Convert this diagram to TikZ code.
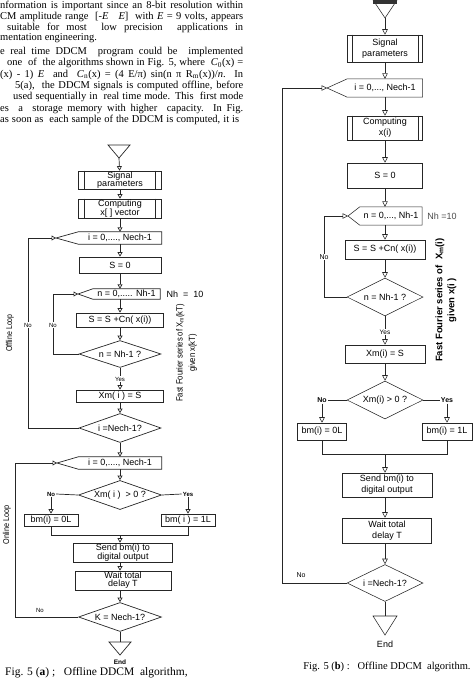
\documentclass[tikz,border=0pt]{standalone}
\usepackage{fontspec}
\setmainfont{Liberation Serif}
\newfontfamily\chartfont{Liberation Sans}
\usetikzlibrary{arrows.meta,shapes.geometric,calc}
\begin{document}
\begin{tikzpicture}[x=1pt,y=-1pt,
  ln/.style={line width=0.55pt, draw=black!85},
  lnA/.style={line width=0.7pt, draw=black!85},
  arr/.style={ln, -{Triangle[open,length=5.5pt,width=5.5pt]}},
  arrA/.style={lnA, -{Triangle[open,length=4.5pt,width=5pt]}},
  fA/.style={font=\chartfont\fontsize{9}{7.8}\selectfont},
  fB/.style={font=\chartfont\fontsize{9}{11}\selectfont},
  smA/.style={inner sep=1pt, font=\chartfont\fontsize{6}{6}\selectfont},
  smAb/.style={inner sep=1pt, font=\chartfont\bfseries\fontsize{6}{6}\selectfont},
  smB/.style={inner sep=1pt, font=\chartfont\fontsize{7}{7}\selectfont},
  smBb/.style={inner sep=1pt, font=\chartfont\bfseries\fontsize{7}{7}\selectfont},
  bx/.style={draw=black!85, line width=0.55pt, inner sep=0pt, align=center},
  bxA/.style={draw=black!85, line width=0.7pt, inner sep=0pt, align=center},
  dm/.style={diamond, draw=black!85, line width=0.55pt, inner sep=0pt, aspect=2.5, align=center},
  dmA/.style={diamond, draw=black!85, line width=0.7pt, inner sep=0pt, aspect=2.5, align=center},
  lp/.style={inner sep=0pt, align=center},
  body/.style={anchor=west, inner sep=0pt, font=\fontsize{10.5}{12}\selectfont},
]
\useasboundingbox (0,0) rectangle (474,680);

% ---------------- body text ----------------
\node[body] (t1) at (0,6) {\makebox[243pt][s]{nformation is important since an 8-bit resolution within}};
\node[body] (t2) at (0,17) {\makebox[243pt][s]{CM amplitude range\ \ [-\textit{E}\ \ \ \textit{E}]\ \ with \textit{E} = 9 volts, appears}};
\node[body] (t3) at (7,27.5) {\makebox[236pt][s]{suitable for most\ \ low precision\ \ applications in}};
\node[body] (t4) at (0,38.5) {mentation engineering.};
\node[body] (t5) at (0,52) {\makebox[243pt][s]{e real time DDCM\ \ program could be\ \ implemented}};
\node[body] (t6) at (7,63) {\makebox[236pt][s]{one\ \ of\ \ the algorithms shown in Fig. 5, where\ \ \textit{C}\textsubscript{0}(x) =}};
\node[body] (t7) at (0,74.5) {\makebox[243pt][s]{(x) - 1) \textit{E}\ \ and\ \ \textit{C}\textsubscript{n}(x) = (4 E/π) sin(n π R\textsubscript{m}(x))/\textit{n}.\ \ In}};
\node[body] (t8) at (15,86) {\makebox[228pt][s]{5(a),\ \ the DDCM signals is computed offline, before}};
\node[body] (t9) at (13,97) {\makebox[230pt][s]{used sequentially in\ \ real time mode. This\ \ first mode}};
\node[body] (t10) at (0,108.5) {\makebox[243pt][s]{es\ \ a\ \ storage memory with higher\ \ capacity.\ \ In Fig.}};
\node[body] (t11) at (0,119.5) {\makebox[239pt][s]{as soon as\ \ each sample of the DDCM is computed, it is}};

% ---------------- chart (a) ----------------
\coordinate (sA) at (119,158);
\draw[lnA] (sA) -- ++(-11,-13) -- ++(22,0) -- cycle;
\node[bxA,fA,minimum width=83,minimum height=18] (sigA) at (120,180) {Signal\\parameters};
\node[bxA,fA,minimum width=83,minimum height=19] (compA) at (120,208.5) {Computing\\x[ ] vector};
\foreach \n in {sigA,compA}
  \draw[lnA] ([xshift=6.5pt]\n.north west) -- ([xshift=6.5pt]\n.south west)
            ([xshift=-6.5pt]\n.north east) -- ([xshift=-6.5pt]\n.south east);
\node[lp,fA,minimum width=83,minimum height=12] (iA) at (120,238) {i = 0,...., Nech-1};
\coordinate (iAt) at (56,238);
\draw[lnA] (iAt) -- (iA.north west) -- (iA.north east) -- (iA.south east) -- (iA.south west) -- cycle;
\node[bxA,fA,minimum width=82,minimum height=16] (S0A) at (120,265) {S = 0};
\node[lp,fA,minimum width=67,minimum height=10] (nA) at (126.5,294) {n = 0,..... Nh-1};
\coordinate (nAt) at (78,294);
\draw[lnA] (nAt) -- (nA.north west) -- (nA.north east) -- (nA.south east) -- (nA.south west) -- cycle;
\node[fA] (NhA) at (185,294) {Nh\ \ =\ \ 10};
\node[bxA,fA,minimum width=87,minimum height=14] (SSA) at (120,320) {S = S +Cn( x(i))};
\node[dmA,fA,minimum width=82,minimum height=27] (nqA) at (120,354) {n = Nh-1 ?};
\node[smA] (yA) at (120,379) {Yes};
\node[bxA,fA,minimum width=87,minimum height=12] (XmA) at (120,396) {Xm( i ) = S};
\node[dmA,fA,minimum width=82,minimum height=29] (iqA) at (120,428) {i =Nech-1?};
\node[lp,fA,minimum width=83,minimum height=12] (i2A) at (120,463) {i = 0,...., Nech-1};
\coordinate (i2At) at (57,463);
\draw[lnA] (i2At) -- (i2A.north west) -- (i2A.north east) -- (i2A.south east) -- (i2A.south west) -- cycle;
\node[dmA,fA,minimum width=83,minimum height=26] (XqA) at (120,495) {Xm( i )\ \ > 0 ?};
\node[smAb] (noBrA) at (51,494) {No};
\node[smAb] (yesBrA) at (188,494) {Yes};
\node[bxA,fA,minimum width=54,minimum height=12] (b0A) at (51,520) {bm(i) = 0L};
\node[bxA,fA,minimum width=54,minimum height=12] (b1A) at (188,520) {bm( i ) = 1L};
\coordinate (mA) at (120,535);
\node[bxA,fA,minimum width=99,minimum height=19] (sendA) at (123,552.5) {Send bm(i) to\\digital output};
\node[bxA,fA,minimum width=96,minimum height=19] (waitA) at (123,580.5) {Wait total\\delay T};
\node[dmA,fA,minimum width=83,minimum height=29] (KqA) at (120,617) {K = Nech-1?};
\coordinate (eA) at (120,642);
\draw[lnA] (eA) ++(-11,0) -- ++(22,0) -- ++(-11,13) -- cycle;
\node[smAb, font=\chartfont\bfseries\fontsize{6.5}{7}\selectfont] (endlA) at (120,662) {End};

% connectors (a)
\draw[arrA] (sA) -- (sigA);
\draw[arrA] (sigA) -- (compA);
\draw[arrA] (compA) -- (iA);
\draw[arrA] (iA) -- (S0A);
\draw[arrA] (S0A) -- (S0A |- nA.north);
\draw[arrA] (S0A |- nA.south) -- (SSA);
\draw[arrA] (SSA) -- (nqA);
\draw[lnA] (nqA) -- (yA);
\draw[arrA] (yA) -- (XmA);
\draw[arrA] (XmA) -- (iqA);
\draw[arrA] (iqA) -- (i2A);
\draw[arrA] (i2A) -- (XqA);
\draw[lnA] (XqA.west) -- (noBrA.east);
\draw[arrA] (noBrA) -- (b0A);
\draw[lnA] (XqA.east) -- (yesBrA.west);
\draw[arrA] (yesBrA) -- (b1A);
\draw[lnA] (b0A) -- (b0A |- mA) -- (b1A |- mA) -- (b1A);
\draw[arrA] (mA) -- (mA |- sendA.north);
\draw[arrA] (sendA.south -| mA) -- (mA |- waitA.north);
\draw[arrA] (waitA.south -| mA) -- (KqA);
\draw[lnA] (KqA) -- (eA);
% loops (a)
\coordinate (oA1) at (28,428); \coordinate (oA2) at (28,238);
\draw[lnA] (iqA.west) -- (oA1) -- (oA2);
\draw[arrA] (oA2) -- (iAt);
\node[smA, fill=white] (noOffA) at (28,325) {No};
\coordinate (nA1) at (53,354); \coordinate (nA2) at (53,294);
\draw[lnA] (nqA.west) -- (nA1) -- (nA2);
\draw[arrA] (nA2) -- (nAt);
\node[smA, fill=white] (noInA) at (53,325) {No};
\coordinate (onA1) at (15,617); \coordinate (onA2) at (15,463);
\draw[lnA] (KqA.west) -- (onA1) -- (onA2);
\draw[arrA] (onA2) -- (i2At);
\node[smA] (noOnA) at (40,610) {No};
% labels (a)
\node[rotate=90, inner sep=0, font=\chartfont\fontsize{8.5}{9}\selectfont] (offLbl) at (10,333) {\scalebox{0.82}[1]{Offline Loop}};
\node[rotate=90, inner sep=0, font=\chartfont\fontsize{8.5}{9}\selectfont] (onLbl) at (7,525) {\scalebox{0.85}[1]{Online Loop}};
\node[rotate=90, inner sep=0, align=center, font=\chartfont\fontsize{9}{12.5}\selectfont] (fftA) at (186.5,353) {\scalebox{0.85}[1]{Fast Fourier series of X\textsubscript{m}(kT)}\\\scalebox{0.85}[1]{given x(kT)}};

% ---------------- chart (b) ----------------
\coordinate (sB) at (385,18);
\draw[ln] (sB) -- ++(-12,-18) -- ++(24,0) -- cycle;
\fill[black!80] (373,0) rectangle (397,3.5);
\node[bx,fB,minimum width=75,minimum height=27] (sigB) at (385,48.5) {Signal\\parameters};
\node[lp,fB,minimum width=75,minimum height=18] (iB) at (385,88) {i = 0,..., Nech-1};
\coordinate (iBt) at (327,88);
\draw[ln] (iBt) -- (iB.north west) -- (iB.north east) -- (iB.south east) -- (iB.south west) -- cycle;
\node[bx,fB,minimum width=75,minimum height=24] (compB) at (385,128) {Computing\\x(i)};
\foreach \n in {sigB,compB}
  \draw[ln] ([xshift=5pt]\n.north west) -- ([xshift=5pt]\n.south west)
            ([xshift=-5pt]\n.north east) -- ([xshift=-5pt]\n.south east);
\node[bx,fB,minimum width=75,minimum height=25] (S0B) at (385,175.5) {S = 0};
\node[lp,fB,minimum width=62,minimum height=18] (nB) at (391,216) {n = 0,..., Nh-1};
\coordinate (nBt) at (348,216);
\draw[ln] (nBt) -- (nB.north west) -- (nB.north east) -- (nB.south east) -- (nB.south west) -- cycle;
\node[fB, text=black!70] (NhB) at (442,216) {Nh =10};
\node[bx,fB,minimum width=80,minimum height=19] (SSB) at (385,249.5) {S = S +Cn( x(i))};
\node[dm,fB,minimum width=76,minimum height=38] (nqB) at (385,297) {n = Nh-1 ?};
\node[smB, font=\chartfont\fontsize{6.5}{7}\selectfont] (yB) at (385,332) {Yes};
\node[bx,fB,minimum width=80,minimum height=18] (XmB) at (385,354) {Xm(i) = S};
\node[dm,fB,minimum width=76,minimum height=38] (XqB) at (385,400) {Xm(i) > 0 ?};
\node[smBb] (noBrB) at (322,400) {No};
\node[smBb] (yesBrB) at (447,400) {Yes};
\node[bx,fB,minimum width=49,minimum height=17] (b0B) at (322,431.5) {bm(i) = 0L};
\node[bx,fB,minimum width=50,minimum height=17] (b1B) at (447,431.5) {bm(i) = 1L};
\coordinate (mB) at (385,454);
\node[bx,fB,minimum width=90,minimum height=24] (sendB) at (387,485) {Send bm(i) to\\digital output};
\node[bx,fB,minimum width=89,minimum height=25] (waitB) at (387,530.5) {Wait total\\delay T};
\node[dm,fB,minimum width=76,minimum height=37] (iqB) at (385,583) {i =Nech-1?};
\coordinate (eB) at (385,616);
\draw[ln] (eB) ++(-12,0) -- ++(24,0) -- ++(-12,19) -- cycle;
\node[fB] (endlB) at (385,644) {End};

% connectors (b)
\draw[arr] (sB) -- (sigB);
\draw[arr] (sigB) -- (iB);
\draw[arr] (iB) -- (compB);
\draw[arr] (compB) -- (S0B);
\draw[arr] (S0B) -- (S0B |- nB.north);
\draw[arr] (S0B |- nB.south) -- (SSB);
\draw[arr] (SSB) -- (nqB);
\draw[ln] (nqB) -- (yB);
\draw[arr] (yB) -- (XmB);
\draw[arr] (XmB) -- (XqB);
\draw[ln] (XqB.west) -- (noBrB.east);
\draw[arr] (noBrB) -- (b0B);
\draw[ln] (XqB.east) -- (yesBrB.west);
\draw[arr] (yesBrB) -- (b1B);
\draw[ln] (b0B) -- (b0B |- mB) -- (b1B |- mB) -- (b1B);
\draw[arr] (mB) -- (mB |- sendB.north);
\draw[arr] (sendB.south -| mB) -- (mB |- waitB.north);
\draw[arr] (waitB.south -| mB) -- (iqB);
\draw[ln] (iqB) -- (eB);
% loops (b)
\coordinate (oB1) at (282,583); \coordinate (oB2) at (282,88);
\draw[ln] (iqB.west) -- (oB1) -- (oB2);
\draw[arr] (oB2) -- (iBt);
\node[smB] (noOffB) at (301,575) {No};
\coordinate (nB1) at (324,297); \coordinate (nB2) at (324,216);
\draw[ln] (nqB.west) -- (nB1) -- (nB2);
\draw[arr] (nB2) -- (nBt);
\node[smB, fill=white] (noInB) at (324,257) {No};
% label (b)
\node[rotate=90, inner sep=0, align=center, font=\chartfont\bfseries\fontsize{9.5}{12}\selectfont] (fftB) at (446,300) {Fast Fourier series of\ \ X\textsubscript{m}(i)\\given x(i\ )};

% captions
\node[anchor=west, inner sep=0, font=\fontsize{11.5}{13}\selectfont] (capA) at (5,673) {Fig. 5 (\textbf{a}) ;\ \ \ Offline DDCM\ \ algorithm,};
\node[inner sep=0, font=\fontsize{10.5}{12}\selectfont] (capB) at (387,667) {Fig. 5 (\textbf{b}) :\ \ \ Offline DDCM\ \ algorithm.};
\end{tikzpicture}
\end{document}
